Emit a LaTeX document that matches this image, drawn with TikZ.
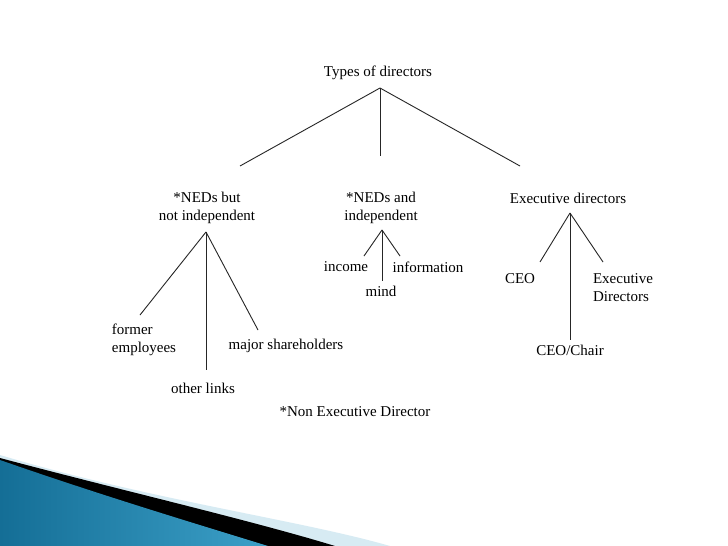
\documentclass[tikz,border=0pt]{standalone}
\usepackage{fontspec}
\setmainfont{Liberation Serif}
\definecolor{decoA}{RGB}{20,110,150}
\definecolor{decoB}{RGB}{60,160,200}
\definecolor{decoL}{RGB}{215,235,243}
\begin{document}
\begin{tikzpicture}[x=1pt,y=-1pt,
  lbl/.style={inner sep=1pt,font=\fontsize{15}{18}\selectfont,align=center},
  ln/.style={line width=0.9pt,color=black!85}]
\useasboundingbox (0,0) rectangle (728,546);
\fill[white] (0,0) rectangle (728,546);
% decoration
\fill[decoL] (0,455) .. controls (150,500) and (300,520) .. (390,546) -- (0,546) -- cycle;
\fill[black] (0,458) .. controls (120,490) and (250,520) .. (335,546) -- (0,546) -- cycle;
\shade[left color=decoA, right color=decoB] (0,460) .. controls (100,495) and (200,525) .. (268,546) -- (0,546) -- cycle;
% nodes
\node[lbl] (t) at (378,73) {Types of directors};
\coordinate (tb) at (380,88);
\node[lbl] (a) at (207,208) {*NEDs but\\not independent};
\node[lbl] (b) at (381,208) {*NEDs and\\independent};
\node[lbl] (c) at (568,198) {Executive directors};
\coordinate (ta) at (240,166);
\coordinate (tbb) at (380,156);
\coordinate (tc) at (520,166);
\draw[ln] (tb) -- (ta); \draw[ln] (tb) -- (tbb); \draw[ln] (tb) -- (tc);
% left subtree
\coordinate (ap) at (206,232);
\node[lbl,align=left] (a1) at (144,340) {former\\employees};
\node[lbl] (a2) at (203,388) {other links};
\node[lbl] (a3) at (286,346) {major shareholders};
\coordinate (a1e) at (140,315);
\coordinate (a2e) at (206,370);
\coordinate (a3e) at (258,330);
\draw[ln] (ap) -- (a1e); \draw[ln] (ap) -- (a2e); \draw[ln] (ap) -- (a3e);
% middle subtree
\coordinate (bp) at (382,230);
\node[lbl] (b1) at (346,267) {income};
\node[lbl] (b2) at (381,291) {mind};
\node[lbl] (b3) at (428,267) {information};
\coordinate (b1e) at (364,256);
\coordinate (b2e) at (382,281);
\coordinate (b3e) at (400,256);
\draw[ln] (bp) -- (b1e); \draw[ln] (bp) -- (b2e); \draw[ln] (bp) -- (b3e);
% right subtree
\coordinate (cp) at (570,213);
\node[lbl] (c1) at (520,279) {CEO};
\node[lbl,align=left] (c3) at (623,288) {Executive\\Directors};
\node[lbl] (c2) at (570,350) {CEO/Chair};
\coordinate (c1e) at (540,262);
\coordinate (c2e) at (570,340);
\coordinate (c3e) at (603,262);
\draw[ln] (cp) -- (c1e); \draw[ln] (cp) -- (c2e); \draw[ln] (cp) -- (c3e);
\node[lbl] (n) at (355,412) {*Non Executive Director};
\end{tikzpicture}
\end{document}
